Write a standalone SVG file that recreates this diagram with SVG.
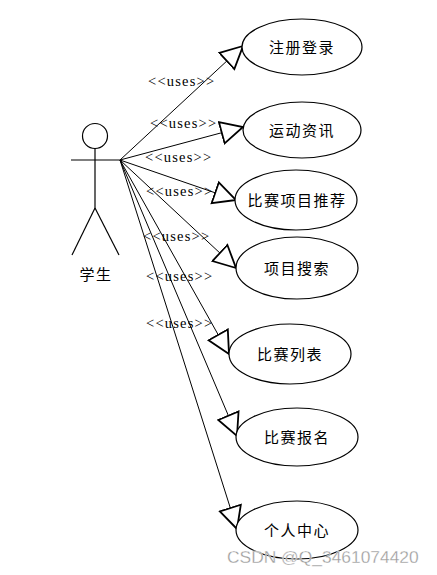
<svg xmlns="http://www.w3.org/2000/svg" width="437" height="575" viewBox="0 0 437 575">
<style>
.uc{fill:#fff;stroke:#000;stroke-width:1.2}
.cn{font-family:"Noto Sans CJK SC","Liberation Sans",sans-serif;font-size:15px;letter-spacing:1.5px;text-anchor:middle;fill:#000}
.lb{font-family:"Liberation Serif",serif;font-size:14.5px;letter-spacing:1.2px;fill:#000}
.ln{stroke:#000;stroke-width:1;fill:none;marker-end:url(#tri)}
.act{stroke:#000;stroke-width:1.2;fill:none}
</style>
<defs>
<marker id="tri" markerUnits="userSpaceOnUse" markerWidth="26" markerHeight="26" refX="23" refY="12" orient="auto" viewBox="0 0 26 24">
<path d="M1,1 L23,12 L1,23 Z" fill="#fff" stroke="#000" stroke-width="1.8" stroke-linejoin="miter"/>
</marker>
</defs>
<rect width="437" height="575" fill="#fff"/>
<g id="actor">
<circle class="act" cx="95" cy="136" r="12.5"/>
<line class="act" x1="95" y1="148.5" x2="95" y2="208"/>
<line class="act" x1="71" y1="160" x2="120" y2="160"/>
<line class="act" x1="95" y1="208" x2="72" y2="255"/>
<line class="act" x1="95" y1="208" x2="119" y2="255"/>
<text class="cn" x="96" y="280">学生</text>
</g>
<g id="connectors">
<line class="ln" x1="120" y1="160" x2="243" y2="46"/>
<line class="ln" x1="120" y1="160" x2="243" y2="127"/>
<line class="ln" x1="120" y1="160" x2="236" y2="200"/>
<line class="ln" x1="120" y1="160" x2="236" y2="268"/>
<line class="ln" x1="120" y1="160" x2="229" y2="354"/>
<line class="ln" x1="120" y1="160" x2="237" y2="436"/>
<line class="ln" x1="120" y1="160" x2="237" y2="529"/>
<text class="lb" x="148" y="86">&lt;&lt;uses&gt;&gt;</text>
<text class="lb" x="150" y="128">&lt;&lt;uses&gt;&gt;</text>
<text class="lb" x="145" y="162">&lt;&lt;uses&gt;&gt;</text>
<text class="lb" x="146" y="196">&lt;&lt;uses&gt;&gt;</text>
<text class="lb" x="143" y="241">&lt;&lt;uses&gt;&gt;</text>
<text class="lb" x="146" y="281">&lt;&lt;uses&gt;&gt;</text>
<text class="lb" x="146" y="328">&lt;&lt;uses&gt;&gt;</text>
</g>
<g id="uc1"><ellipse class="uc" cx="302" cy="47" rx="60" ry="28"/><text class="cn" x="302" y="53">注册登录</text></g>
<g id="uc2"><ellipse class="uc" cx="302" cy="130" rx="59" ry="28"/><text class="cn" x="302" y="136">运动资讯</text></g>
<g id="uc3"><ellipse class="uc" cx="296" cy="200" rx="61" ry="30"/><text class="cn" x="297" y="206">比赛项目推荐</text></g>
<g id="uc4"><ellipse class="uc" cx="297" cy="268" rx="61" ry="31"/><text class="cn" x="297" y="274">项目搜索</text></g>
<g id="uc5"><ellipse class="uc" cx="290" cy="354" rx="61" ry="30"/><text class="cn" x="290" y="360">比赛列表</text></g>
<g id="uc6"><ellipse class="uc" cx="297" cy="437" rx="61" ry="29"/><text class="cn" x="297" y="443">比赛报名</text></g>
<g id="uc7"><ellipse class="uc" cx="297" cy="530" rx="61" ry="29"/><text class="cn" x="297" y="536">个人中心</text></g>
<text x="227" y="563" font-family="Liberation Sans,Arial,sans-serif" font-size="17.4" fill="#9a9a9a" stroke="#fff" stroke-width="0.3">CSDN @Q_3461074420</text>
</svg>
